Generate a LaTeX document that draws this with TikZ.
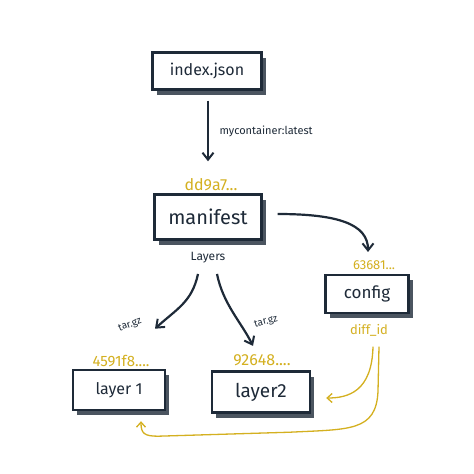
\documentclass[tikz,border=0pt]{standalone}
\usepackage{fontspec}
\setmainfont{Fira Sans}
\usetikzlibrary{arrows.meta,shadows,calc}
\definecolor{ink}{HTML}{1E2A38}
\definecolor{gold}{HTML}{D4B020}
\tikzset{
  box/.style={draw=ink, line width=2.4pt, fill=white, text=ink, inner sep=0pt,
    drop shadow={shadow xshift=4pt, shadow yshift=-5pt, fill=ink!80, opacity=1}},
  hash/.style={text=gold, font=\fontsize{15}{17}\selectfont},
  small/.style={text=ink, font=\fontsize{11}{13}\selectfont},
  darrow/.style={draw=ink, line width=2.2pt, -{Straight Barb[length=7pt,width=11pt,line width=2pt]}},
  garrow/.style={draw=gold, line width=1.3pt, -{Straight Barb[length=5pt,width=9pt,line width=1.3pt]}},
}
\begin{document}
\begin{tikzpicture}[x=1pt,y=-1pt]
\useasboundingbox (0,0) rectangle (474,474);
\fill[white] (0,0) rectangle (474,474);
% boxes
\node[box, minimum width=109pt, minimum height=37pt, font=\fontsize{16}{19}\selectfont] (index) at (207,71) {index.json};
\node[box, minimum width=107pt, minimum height=45pt, font=\fontsize{20}{24}\selectfont] (manifest) at (208,217) {manifest};
\node[box, minimum width=83pt, minimum height=38pt, font=\fontsize{17}{20}\selectfont] (config) at (367,294) {config};
\node[box, minimum width=92pt, minimum height=40pt, font=\fontsize{16}{19}\selectfont] (layer1) at (119,390) {layer 1};
\node[box, minimum width=98pt, minimum height=41pt, font=\fontsize{19}{22}\selectfont] (layer2) at (261,392) {layer2};
% labels
\node[hash, font=\fontsize{16}{18}\selectfont] (h0) at (211,185) {dd9a7...};
\node[hash] (h1) at (121,361) {4591f8....};
\node[hash, font=\fontsize{16}{18}\selectfont] (h2) at (262,360) {92648....};
\node[hash, font=\fontsize{13}{15}\selectfont] (h3) at (374,265) {63681...};
\node[hash, font=\fontsize{13}{15}\selectfont] (diff) at (369,330) {diff\_id};
\node[small, anchor=west] (tag) at (216,131) {mycontainer:latest};
\node[small, font=\fontsize{12}{14}\selectfont] (lay) at (208,258) {Layers};
\node[small, font=\fontsize{10}{12}\selectfont, rotate=20, inner sep=1pt] (t1) at (130,325) {tar.gz};
\node[small, font=\fontsize{10}{12}\selectfont, rotate=15, inner sep=1pt] (t2) at (266,322) {tar.gz};
% dark arrows
\draw[darrow] ($(index.south)+(1,10)$) -- ($(h0.north)+(-3,-14)$);
\draw[darrow] ($(manifest.east)+(15,-3)$) .. controls +(60,0) and +(0,-28) .. ($(h3.north)+(-6,-5)$);
\draw[darrow] ($(lay.south)+(-10,7)$) .. controls +(-6,28) and +(22,-20) .. ($(h1.north)+(34,-23)$);
\draw[darrow] ($(lay.south)+(9,7)$) .. controls +(6,30) and +(-12,-24) .. ($(h2.north)+(-9,-5)$);
% gold arrows
\draw[garrow] ($(diff.south)+(4,7)$) .. controls +(-1,45) and +(22,0) .. ($(layer2.east)+(15,6)$);
\draw[garrow] ($(diff.south)+(10,7)$) -- +(-1,45) .. controls +(-2,40) and +(60,-3) .. ($(layer1.south)+(171,21)$) -- ($(layer1.south)+(39,25)$) .. controls +(-14,0) and +(0,12) .. ($(layer1.south)+(22,10)$);
\end{tikzpicture}
\end{document}
